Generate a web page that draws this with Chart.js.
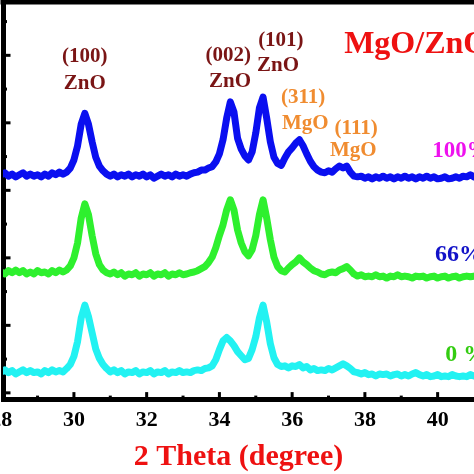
<!DOCTYPE html>
<html>
<head>
<meta charset="utf-8">
<script src="https://cdn.jsdelivr.net/npm/chart.js@4.4.1/dist/chart.umd.min.js"></script>
<style>
    html, body { margin: 0; padding: 0; background: #fff; }
    #wrap { width: 474px; height: 474px; }
</style>
</head>
<body>
<div id="wrap"><canvas id="xrd"></canvas></div>
<script>
'use strict';

// 2θ positions (degree), 0.1 step
const twoTheta = [];
for (let i = 0; i <= 130; i++) twoTheta.push(+(28 + i * 0.1).toFixed(1));

// intensities (a.u., stacked with offsets as in the figure)
const mgo100 = [
    3230, 3260, 3210, 3240, 3200, 3230, 3260, 3210, 3240, 3210,
    3230, 3200, 3240, 3210, 3260, 3230, 3270, 3240, 3270, 3330,
    3450, 3660, 3980, 4140, 3980, 3720, 3490, 3360, 3290, 3240,
    3210, 3240, 3200, 3230, 3210, 3240, 3200, 3230, 3210, 3240,
    3200, 3230, 3180, 3210, 3240, 3210, 3230, 3200, 3240, 3210,
    3230, 3210, 3240, 3260, 3270, 3300, 3300, 3330, 3350, 3420,
    3540, 3750, 4070, 4310, 4160, 3770, 3610, 3510, 3450, 3570,
    3850, 4220, 4380, 4070, 3720, 3490, 3400, 3370, 3480, 3570,
    3630, 3700, 3750, 3660, 3540, 3430, 3350, 3300, 3270, 3260,
    3290, 3270, 3320, 3360, 3330, 3360, 3270, 3210, 3200, 3210,
    3180, 3200, 3170, 3200, 3180, 3210, 3180, 3200, 3170, 3200,
    3180, 3210, 3180, 3200, 3170, 3200, 3180, 3210, 3180, 3200,
    3170, 3180, 3200, 3170, 3180, 3200, 3180, 3210, 3200, 3230,
    3200
];
const mgo66 = [
    1790, 1760, 1810, 1780, 1820, 1780, 1810, 1760, 1790, 1760,
    1810, 1780, 1790, 1760, 1810, 1780, 1820, 1790, 1820, 1880,
    2000, 2220, 2590, 2800, 2640, 2330, 2060, 1900, 1820, 1780,
    1760, 1790, 1750, 1780, 1730, 1760, 1750, 1780, 1730, 1760,
    1750, 1780, 1730, 1760, 1750, 1780, 1730, 1760, 1750, 1780,
    1750, 1760, 1780, 1790, 1810, 1840, 1870, 1930, 2010, 2150,
    2330, 2490, 2710, 2860, 2710, 2410, 2220, 2090, 2030, 2120,
    2330, 2640, 2860, 2590, 2270, 2010, 1870, 1810, 1790, 1850,
    1900, 1940, 2000, 1940, 1900, 1850, 1810, 1790, 1760, 1750,
    1780, 1790, 1780, 1820, 1840, 1870, 1820, 1760, 1730, 1750,
    1720, 1730, 1720, 1750, 1720, 1730, 1700, 1730, 1720, 1750,
    1720, 1730, 1720, 1700, 1730, 1720, 1730, 1700, 1720, 1730,
    1700, 1720, 1730, 1700, 1720, 1730, 1700, 1720, 1730, 1720,
    1730
];
const mgo0 = [
    310, 340, 300, 330, 280, 310, 340, 300, 330, 300,
    310, 280, 330, 300, 340, 310, 330, 310, 360, 420,
    540, 760, 1110, 1300, 1130, 890, 650, 510, 420, 360,
    310, 340, 300, 330, 280, 310, 300, 330, 280, 310,
    300, 330, 280, 310, 300, 330, 280, 310, 300, 330,
    300, 310, 300, 330, 340, 330, 360, 370, 400, 490,
    640, 770, 820, 770, 700, 610, 550, 490, 510, 640,
    830, 1110, 1300, 1050, 730, 520, 420, 390, 400, 370,
    400, 390, 420, 370, 390, 340, 360, 330, 340, 330,
    360, 340, 370, 400, 430, 400, 360, 310, 300, 280,
    300, 270, 280, 250, 280, 270, 280, 250, 270, 280,
    250, 270, 250, 280, 300, 270, 250, 270, 240, 250,
    270, 240, 250, 240, 270, 250, 240, 250, 240, 270,
    250
];

const xTickValues = [28, 30, 32, 34, 36, 38, 40];
const xMinorValues = [29, 31, 33, 35, 37, 39];
const yTickValues = [0, 1000, 2000, 3000, 4000, 5000];
const yMinorValues = [500, 1500, 2500, 3500, 4500, 5500];

const seriesNames = ['100%', '66%', '0 %'];
const seriesValues = [mgo100, mgo66, mgo0];
const seriesColors = ['#0a0ff0', '#2ef02e', '#22f2f2'];

// peak labels: text, 2θ centre, baseline height (a.u.)
const peakLabels = [
    { text: '(100)', x: 30.30, y: 4900, color: '#7a1515' },
    { text: 'ZnO',   x: 30.30, y: 4500, color: '#7a1515' },
    { text: '(002)', x: 34.24, y: 4910, color: '#7a1515' },
    { text: 'ZnO',   x: 34.29, y: 4530, color: '#7a1515' },
    { text: '(101)', x: 35.69, y: 5140, color: '#7a1515' },
    { text: 'ZnO',   x: 35.61, y: 4770, color: '#7a1515' },
    { text: '(311)', x: 36.30, y: 4290, color: '#f08c30' },
    { text: 'MgO',   x: 36.36, y: 3910, color: '#f08c30' },
    { text: '(111)', x: 37.76, y: 3830, color: '#f08c30' },
    { text: 'MgO',   x: 37.68, y: 3510, color: '#f08c30' }
];
// left-aligned labels
const sideLabels = [
    { text: 'MgO/ZnO', x: 37.43, y: 5030, color: '#ee1111', size: 32 },
    { text: '100%',    x: 39.85, y: 3490, color: '#ee11ee', size: 23 },
    { text: '66%',     x: 39.93, y: 1950, color: '#1212c8', size: 24 },
    { text: '0 %',     x: 40.21, y: 470,  color: '#33cc11', size: 24 }
];

const SERIF = '"Liberation Serif", "Times New Roman", serif';

// inward ticks, top frame line and text labels
const decorPlugin = {
    id: 'decor',
    afterDatasetsDraw(chart) {
        const { ctx, chartArea } = chart;
        const xs = chart.scales.x;
        const ys = chart.scales.y;
        ctx.save();
        ctx.strokeStyle = '#000';

        ctx.lineWidth = 5;
        ctx.beginPath();
        ctx.moveTo(chartArea.left - 2.5, chartArea.top);
        ctx.lineTo(chartArea.right, chartArea.top);
        ctx.stroke();

        ctx.lineWidth = 3;
        const tickX = (vals, len) => vals.forEach(v => {
            const px = xs.getPixelForValue(v);
            ctx.beginPath();
            ctx.moveTo(px, chartArea.bottom);
            ctx.lineTo(px, chartArea.bottom - len);
            ctx.stroke();
        });
        const tickY = (vals, len) => vals.forEach(v => {
            const py = ys.getPixelForValue(v);
            ctx.beginPath();
            ctx.moveTo(chartArea.left, py);
            ctx.lineTo(chartArea.left + len, py);
            ctx.stroke();
        });
        tickX(xTickValues.slice(1), 7.5);
        tickX(xMinorValues, 4);
        tickY(yTickValues, 7.5);
        tickY(yMinorValues, 4);

        ctx.textBaseline = 'alphabetic';
        ctx.textAlign = 'center';
        ctx.font = 'bold 21px ' + SERIF;
        peakLabels.forEach(l => {
            ctx.fillStyle = l.color;
            ctx.fillText(l.text, xs.getPixelForValue(l.x), ys.getPixelForValue(l.y));
        });
        ctx.textAlign = 'left';
        sideLabels.forEach(l => {
            ctx.font = 'bold ' + l.size + 'px ' + SERIF;
            ctx.fillStyle = l.color;
            ctx.fillText(l.text, xs.getPixelForValue(l.x), ys.getPixelForValue(l.y));
        });
        ctx.restore();
    }
};

// the figure is cropped on the left: let the "28" label run off the canvas
const noSidePadding = s => { s.paddingLeft = 0; s.paddingRight = 0; };

new Chart(document.getElementById('xrd'), {
    type: 'line',
    data: {
        datasets: seriesValues.map((vals, i) => ({
            label: seriesNames[i],
            data: vals.map((v, k) => ({ x: twoTheta[k], y: v })),
            borderColor: seriesColors[i],
            borderWidth: 7,
            pointRadius: 0,
            tension: 0,
            borderJoinStyle: 'round',
            borderCapStyle: 'round'
        }))
    },
    options: {
        responsive: true,
        maintainAspectRatio: false,
        animation: false,
        devicePixelRatio: 1,
        layout: { autoPadding: false, padding: { left: 3, top: 2, right: 0, bottom: 0 } },
        plugins: { legend: { display: false }, tooltip: { enabled: false } },
        scales: {
            x: {
                type: 'linear',
                min: 28.05,
                max: 41.0,
                afterBuildTicks: s => { s.ticks = xTickValues.map(v => ({ value: v })); },
                afterFit: noSidePadding,
                grid: { drawOnChartArea: false, drawTicks: false },
                border: { display: true, color: '#000', width: 5 },
                ticks: {
                    color: '#000',
                    padding: 8,
                    maxRotation: 0,
                    autoSkip: false,
                    font: { family: SERIF, size: 22, weight: 'bold', lineHeight: 1.2 }
                },
                title: {
                    display: true,
                    text: '2 Theta (degree)',
                    color: '#ee1111',
                    padding: { top: 0, bottom: 2 },
                    font: { family: SERIF, size: 30, weight: 'bold', lineHeight: 1.0 }
                }
            },
            y: {
                min: -100,
                max: 5790,
                afterBuildTicks: s => { s.ticks = yTickValues.map(v => ({ value: v })); },
                afterFit: s => { s.width = 0; },
                grid: { drawOnChartArea: false, drawTicks: false },
                border: { display: true, color: '#000', width: 5 },
                ticks: { display: false }
            }
        }
    },
    plugins: [decorPlugin]
});
</script>
</body>
</html>
